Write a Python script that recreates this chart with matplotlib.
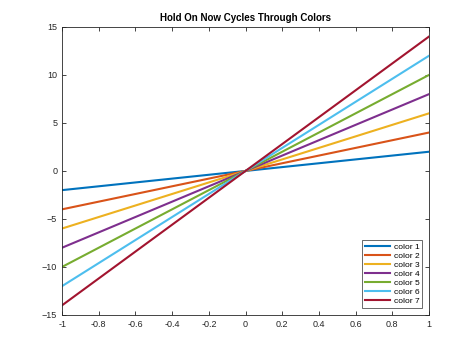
import numpy as np
import matplotlib
matplotlib.use("Agg")
import matplotlib.pyplot as plt

plt.rcParams['font.family'] = ['Liberation Sans', 'DejaVu Sans']

# --- data ---
x_vals = [-1, 1]
slopes = [2, 4, 6, 8, 10, 12, 14]
labels = ["color 1", "color 2", "color 3", "color 4", "color 5", "color 6", "color 7"]
colors = ["#0072BD", "#D95319", "#EDB120", "#7E2F8E", "#77AC30", "#4DBEEE", "#A2142F"]
xticks = [-1, -0.8, -0.6, -0.4, -0.2, 0, 0.2, 0.4, 0.6, 0.8, 1]
xtick_labels = ["-1", "-0.8", "-0.6", "-0.4", "-0.2", "0", "0.2", "0.4", "0.6", "0.8", "1"]
yticks = [-15, -10, -5, 0, 5, 10, 15]

fig = plt.figure(figsize=(4.74, 3.55), dpi=100)
ax = fig.add_axes([0.131, 0.113, 0.774, 0.811])

x = np.array(x_vals)
for k, lab, c in zip(slopes, labels, colors):
    ax.plot(x, k * x, color=c, linewidth=1.5, label=lab)

ax.set_xlim(-1, 1)
ax.set_ylim(-15, 15)
ax.set_xticks(xticks)
ax.set_xticklabels(xtick_labels)
ax.set_yticks(yticks)
ax.tick_params(direction="in", top=True, right=True, labelsize=6.5,
               colors="#262626", length=3, width=0.6)
for s in ax.spines.values():
    s.set_color("#262626")
    s.set_linewidth(0.6)

ax.set_title("Hold On Now Cycles Through Colors", fontsize=7, fontweight="bold", pad=4)

leg = ax.legend(loc="lower right", fontsize=6, frameon=True, fancybox=False,
                edgecolor="#262626", handlelength=3.0, labelspacing=0.15,
                borderpad=0.35, handletextpad=0.4, borderaxespad=0.8)
leg.get_frame().set_linewidth(0.6)

fig.savefig("out.png", dpi=100)
